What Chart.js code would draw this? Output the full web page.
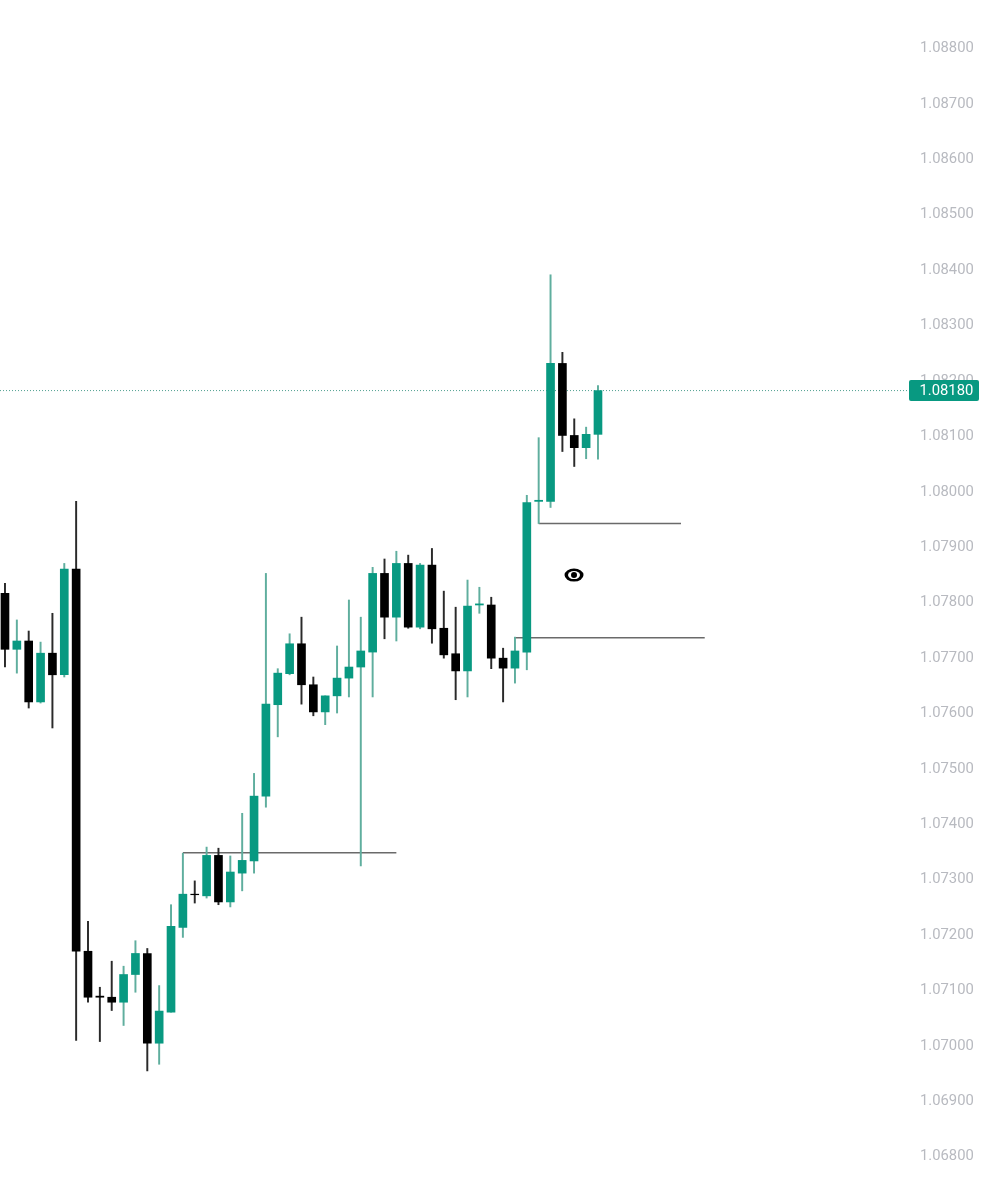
<!DOCTYPE html>
<html>
<head>
<meta charset="utf-8">
<title>Candles</title>
<style>
    html, body { margin: 0; padding: 0; background: #ffffff; }
    #chartBox { position: relative; width: 986px; height: 1200px; }
</style>
<script src="https://cdn.jsdelivr.net/npm/chart.js@4/dist/chart.umd.min.js"></script>
</head>
<body>
<div id="chartBox"><canvas id="candleChart"></canvas></div>
<script>
// Candle values
const opens = [1.07814, 1.07713, 1.07728, 1.07618, 1.07706, 1.07667, 1.07858, 1.07168, 1.07087, 1.07085,
    1.07076, 1.07126, 1.07164, 1.07002, 1.07058, 1.07211, 1.07271, 1.07268, 1.07341, 1.07257,
    1.07309, 1.07331, 1.07448, 1.07613, 1.07669, 1.07723, 1.07649, 1.07600, 1.07629, 1.07661,
    1.07681, 1.07708, 1.07850, 1.07771, 1.07868, 1.07753, 1.07865, 1.07751, 1.07705, 1.07674,
    1.07793, 1.07793, 1.07697, 1.07679, 1.07708, 1.07980, 1.07980, 1.08229, 1.08099, 1.08077, 1.08101];
const highs = [1.07832, 1.07766, 1.07746, 1.07726, 1.07778, 1.07868, 1.07980, 1.07222, 1.07103, 1.07150,
    1.07141, 1.07187, 1.07173, 1.07106, 1.07252, 1.07345, 1.07295, 1.07356, 1.07354, 1.07340,
    1.07417, 1.07489, 1.07850, 1.07678, 1.07741, 1.07771, 1.07663, 1.07629, 1.07719, 1.07802,
    1.07771, 1.07861, 1.07876, 1.07890, 1.07883, 1.07868, 1.07895, 1.07818, 1.07789, 1.07838,
    1.07825, 1.07807, 1.07715, 1.07735, 1.07991, 1.08095, 1.08389, 1.08249, 1.08129, 1.08114, 1.08189];
const lows = [1.07681, 1.07670, 1.07607, 1.07616, 1.07571, 1.07663, 1.07007, 1.07076, 1.07005, 1.07061,
    1.07034, 1.07094, 1.06952, 1.06964, 1.07058, 1.07193, 1.07255, 1.07264, 1.07252, 1.07248,
    1.07277, 1.07309, 1.07428, 1.07555, 1.07667, 1.07614, 1.07593, 1.07577, 1.07598, 1.07627,
    1.07322, 1.07627, 1.07732, 1.07728, 1.07751, 1.07750, 1.07724, 1.07697, 1.07622, 1.07627,
    1.07778, 1.07678, 1.07618, 1.07652, 1.07676, 1.07940, 1.07969, 1.08070, 1.08043, 1.08057, 1.08056];
const closes = [1.07713, 1.07728, 1.07618, 1.07706, 1.07667, 1.07858, 1.07168, 1.07085, 1.07085, 1.07076,
    1.07126, 1.07164, 1.07002, 1.07060, 1.07213, 1.07271, 1.07270, 1.07341, 1.07257, 1.07311,
    1.07332, 1.07448, 1.07614, 1.07670, 1.07723, 1.07649, 1.07600, 1.07629, 1.07661, 1.07681,
    1.07710, 1.07850, 1.07771, 1.07868, 1.07753, 1.07865, 1.07750, 1.07703, 1.07674, 1.07791,
    1.07795, 1.07697, 1.07679, 1.07710, 1.07978, 1.07982, 1.08229, 1.08099, 1.08077, 1.08101, 1.08180];

// Horizontal levels, in candle index and price
const level1X = [15, 33];
const level1Y = [1.07346, 1.07346];
const level2X = [45, 57];
const level2Y = [1.07940, 1.07940];
const level3X = [43, 59];
const level3Y = [1.07734, 1.07734];

const tickValues = [1.068, 1.069, 1.070, 1.071, 1.072, 1.073, 1.074, 1.075, 1.076, 1.077,
    1.078, 1.079, 1.080, 1.081, 1.082, 1.083, 1.084, 1.085, 1.086, 1.087, 1.088];
const lastPrice = 1.0818;
const eyeX = 47.98;
const eyeY = 1.07847;

const GREEN = '#089981';
const GREEN_WICK = '#5fae9e';
const BLACK = '#000000';
const BLACK_WICK = '#2a2a2a';
const LEVEL = '#6a6a6a';

const xMin = -0.42;
const xMax = 76.14;

const isUp = (i) => closes[i] >= opens[i];
const indexes = opens.map((_, i) => i);

// Price tag on the axis and the little eye marker
const overlayPlugin = {
    id: 'overlay',
    afterDraw(chart) {
        const ctx = chart.ctx;
        const yScale = chart.scales.y;
        const xScale = chart.scales.x;

        const tagY = yScale.getPixelForValue(lastPrice);
        ctx.save();
        ctx.fillStyle = GREEN;
        ctx.beginPath();
        ctx.roundRect(909, tagY - 10.5, 70, 21, 2);
        ctx.fill();
        ctx.fillStyle = '#ffffff';
        ctx.font = '14.8px Roboto';
        ctx.textAlign = 'left';
        ctx.textBaseline = 'middle';
        ctx.fillText(lastPrice.toFixed(5), 919.5, tagY + 1);

        const ex = xScale.getPixelForValue(eyeX);
        const ey = yScale.getPixelForValue(eyeY);
        ctx.fillStyle = '#000000';
        ctx.beginPath();
        ctx.ellipse(ex, ey, 9.5, 6.5, 0, 0, Math.PI * 2);
        ctx.fill();
        ctx.fillStyle = '#ffffff';
        ctx.beginPath();
        ctx.ellipse(ex, ey, 6, 4, 0, 0, Math.PI * 2);
        ctx.fill();
        ctx.fillStyle = '#000000';
        ctx.beginPath();
        ctx.arc(ex, ey, 3, 0, Math.PI * 2);
        ctx.fill();
        ctx.restore();
    }
};

function levelDataset(xs, ys) {
    return {
        type: 'line',
        data: xs.map((x, i) => ({ x: x, y: ys[i] })),
        borderColor: LEVEL,
        borderWidth: 1.5,
        pointRadius: 0,
        order: 5
    };
}

new Chart(document.getElementById('candleChart').getContext('2d'), {
    type: 'bar',
    data: {
        datasets: [
            {
                // bodies
                data: indexes.map(i => ({ x: i, y: [opens[i], closes[i]] })),
                backgroundColor: indexes.map(i => isUp(i) ? GREEN : BLACK),
                barThickness: 8,
                grouped: false,
                order: 1
            },
            {
                // wicks
                data: indexes.map(i => ({ x: i, y: [lows[i], highs[i]] })),
                backgroundColor: indexes.map(i => isUp(i) ? GREEN_WICK : BLACK_WICK),
                barThickness: 1.3,
                grouped: false,
                order: 2
            },
            levelDataset(level1X, level1Y),
            levelDataset(level2X, level2Y),
            levelDataset(level3X, level3Y),
            {
                // dotted last price line
                type: 'line',
                data: [{ x: xMin, y: lastPrice }, { x: xMax, y: lastPrice }],
                borderColor: '#4f9f90',
                borderWidth: 1,
                borderDash: [1, 2],
                pointRadius: 0,
                order: 6
            }
        ]
    },
    options: {
        responsive: true,
        maintainAspectRatio: false,
        animation: false,
        layout: { padding: 0, autoPadding: false },
        plugins: {
            legend: { display: false },
            tooltip: { enabled: false }
        },
        scales: {
            x: {
                type: 'linear',
                display: false,
                offset: false, // bar charts switch this on, it would pad the linear axis
                min: xMin,
                max: xMax
            },
            y: {
                position: 'right',
                min: 1.06719,
                max: 1.08885,
                grid: { display: false, drawTicks: false },
                border: { display: false },
                afterBuildTicks(scale) {
                    scale.ticks = tickValues.map(v => ({ value: v }));
                },
                afterFit(scale) {
                    scale.width = 78;
                    scale.paddingTop = 0;
                    scale.paddingBottom = 0;
                },
                ticks: {
                    color: '#b8bac0',
                    padding: 12,
                    labelOffset: 1.5,
                    font: { family: 'Roboto', size: 14.8 },
                    autoSkip: false,
                    callback: (v) => v.toFixed(5)
                }
            }
        }
    },
    plugins: [overlayPlugin]
});
</script>
</body>
</html>
